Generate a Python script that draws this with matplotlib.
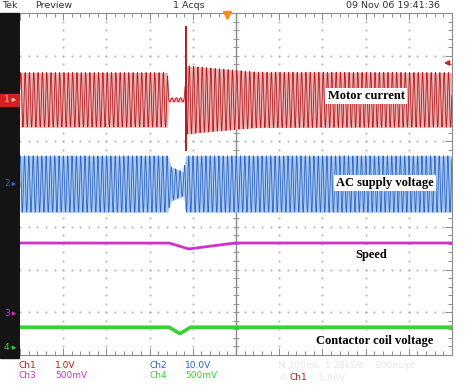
import numpy as np
import matplotlib.pyplot as plt
from matplotlib.patches import Rectangle

W, H = 474, 386

# screen geometry (pixels) of the graticule
gx0, gx1 = 20, 452
gy0, gy1 = 13, 355

# time base: 200 ms/div, 10 div, 1.25 kS/s
t_span = 2.0
fs = 1250
f_line = 50.0

# channel ground markers (div from screen centre)
ch_offset = [1.97, 0.0, -3.03, -3.83]
ch_colors = ['#b51a1e', '#2c64c6', '#d22fd2', '#33d433']
ch_light = ['#eab4b4', '#a9c9ef']

# motor current: centre level and peak envelope (div)
cur_level = 1.97
cur_t = [0.0, 0.682, 0.690, 0.760, 0.772, 0.85, 1.10, 2.0]
cur_amp = [0.64, 0.64, 0.05, 0.05, 0.80, 0.76, 0.65, 0.64]
spike_t = 0.768
spike_hi = 1.70
spike_lo = -1.18

# AC supply voltage envelope (div)
ac_level = 0.0
ac_t = [0.0, 0.684, 0.700, 0.758, 0.766, 2.0]
ac_amp = [0.66, 0.66, 0.40, 0.28, 0.66, 0.66]

# speed trace (div)
spd_t = [0.0, 0.69, 0.78, 0.86, 0.99, 2.0]
spd_v = [-1.38, -1.38, -1.52, -1.47, -1.38, -1.38]

# contactor coil voltage (div)
con_t = [0.0, 0.69, 0.74, 0.79, 2.0]
con_v = [-3.35, -3.35, -3.50, -3.35, -3.35]

labels = ['Motor current', 'AC supply voltage', 'Speed', 'Contactor coil voltage']
label_t = [1.602, 1.69, 1.625, 1.644]
label_y = [2.06, 0.03, -1.66, -3.67]

fig = plt.figure(figsize=(W / 100, H / 100), dpi=100)
fig.patch.set_facecolor('white')

# overlay in pixel coordinates for the scope furniture
ov = fig.add_axes([0, 0, 1, 1], zorder=0)
ov.set_xlim(0, W)
ov.set_ylim(H, 0)
ov.axis('off')

ax = fig.add_axes([gx0 / W, (H - gy1) / H, (gx1 - gx0) / W, (gy1 - gy0) / H], zorder=1)
ax.set_xlim(0, t_span)
ax.set_ylim(-4, 4)
ax.set_facecolor('white')

# transparent overlay on top for markers that sit on the graticule
top = fig.add_axes([0, 0, 1, 1], zorder=2)
top.set_xlim(0, W)
top.set_ylim(H, 0)
top.axis('off')
top.patch.set_alpha(0)

def px_y(div):
    return (gy0 + gy1) / 2 - div * (gy1 - gy0) / 8

# graticule: dotted division lines
gc = '#b4b4b4'
for xi in np.arange(0.2, 2.0, 0.2):
    if abs(xi - 1.0) > 1e-6:
        yy = np.arange(-4, 4.01, 0.2)
        ax.plot(np.full_like(yy, xi), yy, ls='none', marker='.', ms=1.0, color=gc, zorder=1)
for yi in range(-3, 4):
    if yi != 0:
        xx = np.arange(0, 2.001, 0.04)
        ax.plot(xx, np.full_like(xx, yi), ls='none', marker='.', ms=1.0, color=gc, zorder=1)
ax.axvline(1.0, color='#8a8a8a', lw=1.0, zorder=1)
ax.axhline(0.0, color='#c0c0c0', lw=0.6, zorder=1)
xx = np.arange(0, 2.001, 0.04)
ax.plot(xx, np.zeros_like(xx), ls='none', marker='|', ms=4, mew=0.6, color='#a0a0a0', zorder=1)
yy = np.arange(-4, 4.01, 0.2)
ax.plot(np.ones_like(yy), yy, ls='none', marker='_', ms=4, mew=0.6, color='#8a8a8a', zorder=1)

ax.set_xticks(np.arange(0, 2.01, 0.2))
ax.set_xticks(np.arange(0, 2.01, 0.04), minor=True)
ax.set_yticks(np.arange(-4, 4.01, 1))
ax.set_yticks(np.arange(-4, 4.01, 0.2), minor=True)
ax.tick_params(which='both', direction='in', top=True, bottom=True, right=True, left=False,
               labelbottom=False, labelleft=False, color='#8a8a8a', width=0.7)
ax.tick_params(which='major', length=5)
ax.tick_params(which='minor', length=3)
for s in ax.spines.values():
    s.set_color('#8a8a8a')
    s.set_linewidth(0.8)
ax.spines['left'].set_visible(False)

# sampled traces
t = np.arange(0, t_span, 1 / fs)
carrier = np.sin(2 * np.pi * f_line * t + 0.4)

amp = np.interp(t, cur_t, cur_amp)
ax.fill_between(t, cur_level - amp, cur_level + amp, color=ch_light[0], lw=0, zorder=2)
ax.plot(t, cur_level + amp * carrier, color=ch_colors[0], lw=0.6, zorder=3)
ax.plot([spike_t, spike_t], [cur_level + spike_lo, cur_level + spike_hi], color=ch_colors[0], lw=1.4, zorder=3)

amp = np.interp(t, ac_t, ac_amp)
ax.fill_between(t, ac_level - amp, ac_level + amp, color=ch_light[1], lw=0, zorder=2)
ax.plot(t, ac_level + amp * np.sin(2 * np.pi * f_line * t + 1.3), color=ch_colors[1], lw=0.6, zorder=3)

ax.plot(t, np.interp(t, spd_t, spd_v), color=ch_colors[2], lw=2.0, zorder=3)
ax.plot(t, np.interp(t, con_t, con_v), color=ch_colors[3], lw=2.6, zorder=3)

for name, lt, ly in zip(labels, label_t, label_y):
    ax.text(lt, ly, name, ha='center', va='center', fontsize=9, fontweight='bold',
            family='Liberation Serif', color='black', zorder=5,
            bbox=dict(facecolor='white', edgecolor='none', pad=1.5))

# black strip with channel markers
ov.add_patch(Rectangle((0, gy0), gx0 - 1, 358 - gy0, color='#141414', zorder=1))
ov.add_patch(Rectangle((0, px_y(ch_offset[0]) - 6), gx0 - 1, 12, color='#d62020', zorder=2))
ov.text(4, px_y(ch_offset[0]), '1', color='#ffc0c0', fontsize=6.5, va='center', zorder=3)
ov.annotate('', xy=(gx0 - 1, px_y(ch_offset[0])), xytext=(10, px_y(ch_offset[0])),
            arrowprops=dict(arrowstyle='-|>', color='#ffc0c0', lw=0.8, mutation_scale=5), zorder=3)
for i, num in [(1, '2'), (2, '3'), (3, '4')]:
    yy_px = px_y(ch_offset[i])
    ov.text(4, yy_px, num, color=ch_colors[i], fontsize=6.5, va='center', zorder=3)
    ov.annotate('', xy=(gx0 - 1, yy_px), xytext=(10, yy_px),
                arrowprops=dict(arrowstyle='-|>', color=ch_colors[i], lw=0.8, mutation_scale=5), zorder=3)

# trigger markers
top.plot(227, 15, marker='v', color='#ff8a1c', ms=6, zorder=3)
top.annotate('', xy=(441, 63), xytext=(452, 63),
             arrowprops=dict(arrowstyle='-|>', color='#d02020', lw=1.2, mutation_scale=7), zorder=3)

# header
hc = '#303030'
ov.text(2, 6, 'Tek', color=hc, fontsize=6.8, va='center')
ov.text(35, 6, 'Preview', color=hc, fontsize=6.8, va='center')
ov.text(173, 6, '1 Acqs', color=hc, fontsize=6.8, va='center')
ov.text(346, 6, '09 Nov 06 19:41:36', color=hc, fontsize=6.8, va='center')

# footer
ov.text(19, 366, 'Ch1', color=ch_colors[0], fontsize=6.5, va='center')
ov.text(55, 366, '1.0V', color=ch_colors[0], fontsize=6.5, va='center')
ov.text(19, 376, 'Ch3', color=ch_colors[2], fontsize=6.5, va='center')
ov.text(55, 376, '500mV', color=ch_colors[2], fontsize=6.5, va='center')
ov.text(150, 366, 'Ch2', color=ch_colors[1], fontsize=6.5, va='center')
ov.text(185, 366, '10.0V', color=ch_colors[1], fontsize=6.5, va='center')
ov.text(150, 376, 'Ch4', color=ch_colors[3], fontsize=6.5, va='center')
ov.text(185, 376, '500mV', color=ch_colors[3], fontsize=6.5, va='center')
fc = '#e6e6e6'
ov.text(278, 365, 'M 200ms  1.25kS/s    800ns/pt', color=fc, fontsize=6.5, va='center')
ov.text(280, 378, 'A', color=fc, fontsize=6.5, va='center')
ov.text(290, 378, 'Ch1', color=ch_colors[0], fontsize=6.5, va='center')
ov.text(310, 378, '/  1.06V', color=fc, fontsize=6.5, va='center')

fig.savefig('out.png', dpi=100, facecolor='white')
